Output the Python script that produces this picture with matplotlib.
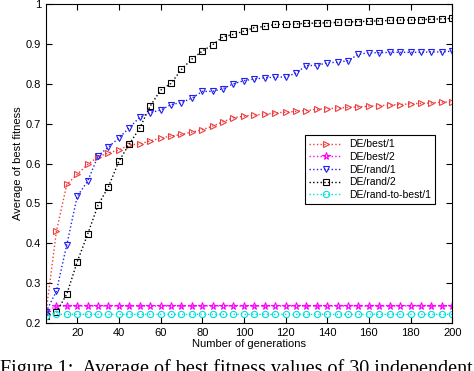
import matplotlib
matplotlib.use("Agg")
import matplotlib.pyplot as plt
import numpy as np

generations = list(range(5, 201, 5))
de_best_1 = [0.226, 0.43, 0.548, 0.573, 0.598, 0.617, 0.627, 0.634, 0.647, 0.649,
             0.657, 0.664, 0.669, 0.673, 0.679, 0.685, 0.694, 0.705, 0.715, 0.719,
             0.722, 0.724, 0.727, 0.729, 0.731, 0.733, 0.736, 0.738, 0.739, 0.741,
             0.742, 0.744, 0.745, 0.747, 0.748, 0.750, 0.751, 0.752, 0.754, 0.755]
de_best_2 = [0.228] + [0.243] * 39
de_rand_1 = [0.228, 0.28, 0.397, 0.518, 0.556, 0.619, 0.642, 0.664, 0.690, 0.716,
             0.728, 0.734, 0.748, 0.753, 0.764, 0.781, 0.781, 0.788, 0.800, 0.808,
             0.812, 0.815, 0.817, 0.817, 0.827, 0.846, 0.846, 0.853, 0.854, 0.858,
             0.874, 0.878, 0.878, 0.879, 0.879, 0.879, 0.879, 0.880, 0.880, 0.882]
de_rand_2 = [0.218, 0.227, 0.273, 0.354, 0.423, 0.496, 0.542, 0.606, 0.649, 0.689,
             0.744, 0.784, 0.801, 0.836, 0.862, 0.882, 0.898, 0.918, 0.924, 0.932,
             0.941, 0.944, 0.949, 0.949, 0.950, 0.952, 0.952, 0.953, 0.954, 0.955,
             0.956, 0.957, 0.958, 0.959, 0.960, 0.960, 0.961, 0.962, 0.963, 0.964]
de_rand_to_best_1 = [0.218] + [0.222] * 39

series = [
    ("DE/best/1", de_best_1, "#f03c3c", ">"),
    ("DE/best/2", de_best_2, "#ff00ff", "*"),
    ("DE/rand/1", de_rand_1, "#2020f0", "v"),
    ("DE/rand/2", de_rand_2, "#000000", "s"),
    ("DE/rand-to-best/1", de_rand_to_best_1, "#00e0e0", "o"),
]

plt.rcParams['font.family'] = ['Liberation Sans', 'DejaVu Sans']
fig = plt.figure(figsize=(4.74, 3.71), dpi=100)
ax = fig.add_axes([0.097, 0.129, 0.857, 0.860])

for name, vals, col, mk in series:
    ax.plot(generations, vals, linestyle=':', color=col, marker=mk,
            markerfacecolor='none', markeredgecolor=col,
            markersize=4.5 if mk != '*' else 5.5,
            markeredgewidth=0.8, linewidth=1.0, label=name)

ax.set_xlim(5, 200)
ax.set_ylim(0.2, 1.0)
ax.set_xticks(np.arange(20, 201, 20))
ax.set_yticks(np.arange(0.2, 1.01, 0.1))
ax.set_yticklabels(["0.2", "0.3", "0.4", "0.5", "0.6", "0.7", "0.8", "0.9", "1"])
ax.tick_params(direction='in', top=True, right=True, labelsize=8, length=4, width=0.8)
for s in ax.spines.values():
    s.set_linewidth(0.8)
ax.set_xlabel("Number of generations", fontsize=8, labelpad=1)
ax.set_ylabel("Average of best fitness", fontsize=8, labelpad=2)

leg = ax.legend(loc='upper right', bbox_to_anchor=(0.97, 0.605), fontsize=7.5,
                fancybox=False, edgecolor='black', framealpha=1, handlelength=3.2,
                borderpad=0.4, labelspacing=0.25, handletextpad=0.6)
leg.get_frame().set_linewidth(0.8)

fig.text(0.0, -0.008, "Figure 1:  Average of best fitness values of 30 independent",
         fontsize=14.5, family=['Liberation Serif', 'DejaVu Serif'], ha='left', va='baseline')

fig.savefig("out.png", dpi=100)
